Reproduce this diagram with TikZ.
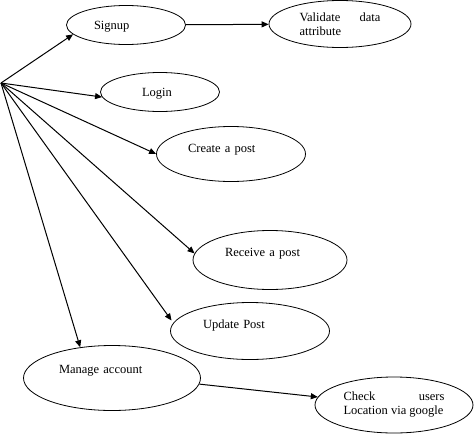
\documentclass[tikz,border=0pt]{standalone}
\usepackage{fontspec}
\setmainfont{Liberation Serif}
\usetikzlibrary{arrows.meta,shapes.geometric}
\hyphenpenalty=10000
\tolerance=10000
\hbadness=10000

\begin{document}
\begin{tikzpicture}[x=1pt, y=-1pt,
  usecase/.style={ellipse, draw, line width=0.8pt, inner sep=0pt, align=left,
                  font=\fontsize{12.5}{14}\selectfont},
  raised/.style={text height=9pt, text depth=#1},
  arr/.style={-{Triangle[length=7pt,width=6pt]}, line width=1pt}
]
\useasboundingbox (0,0) rectangle (474,434);
\coordinate (user) at (1,83);
\node[usecase, minimum width=119pt, minimum height=39pt, text width=64pt, raised=1pt] (signup) at (126,25) {Signup};
\node[usecase, minimum width=142pt, minimum height=47pt, text width=81pt, align=justify] (validate) at (340,24) {Validate data attribute};
\node[usecase, minimum width=119pt, minimum height=39pt, text width=36pt, raised=1pt] (login) at (160,92) {Login};
\node[usecase, minimum width=149pt, minimum height=55pt, text width=86pt, raised=13pt] (create) at (231,154) {Create a post};
\node[usecase, minimum width=154pt, minimum height=59pt, text width=90pt, raised=17pt] (receive) at (270,260) {Receive a post};
\node[usecase, minimum width=159pt, minimum height=57pt, text width=94pt, raised=15pt] (update) at (250,331) {Update Post};
\node[usecase, minimum width=177pt, minimum height=65pt, text width=106pt, raised=19pt] (manage) at (112,378) {Manage account};
\node[usecase, minimum width=158pt, minimum height=56pt, text width=101pt, align=justify] (check) at (394,405) {Check users Location via google};
\draw[arr] (user) -- (signup.190);
\draw[arr] (user) -- (login.185);
\draw[arr] (user) -- (create.180);
\draw[arr] (user) -- (receive.175);
\draw[arr, shorten >=3pt] (user) -- (update.174);
\draw[arr] (user) -- (manage.136);
\draw[arr] (signup) -- (validate);
\draw[arr] (manage.-4) -- (check.174);
\end{tikzpicture}
\end{document}
